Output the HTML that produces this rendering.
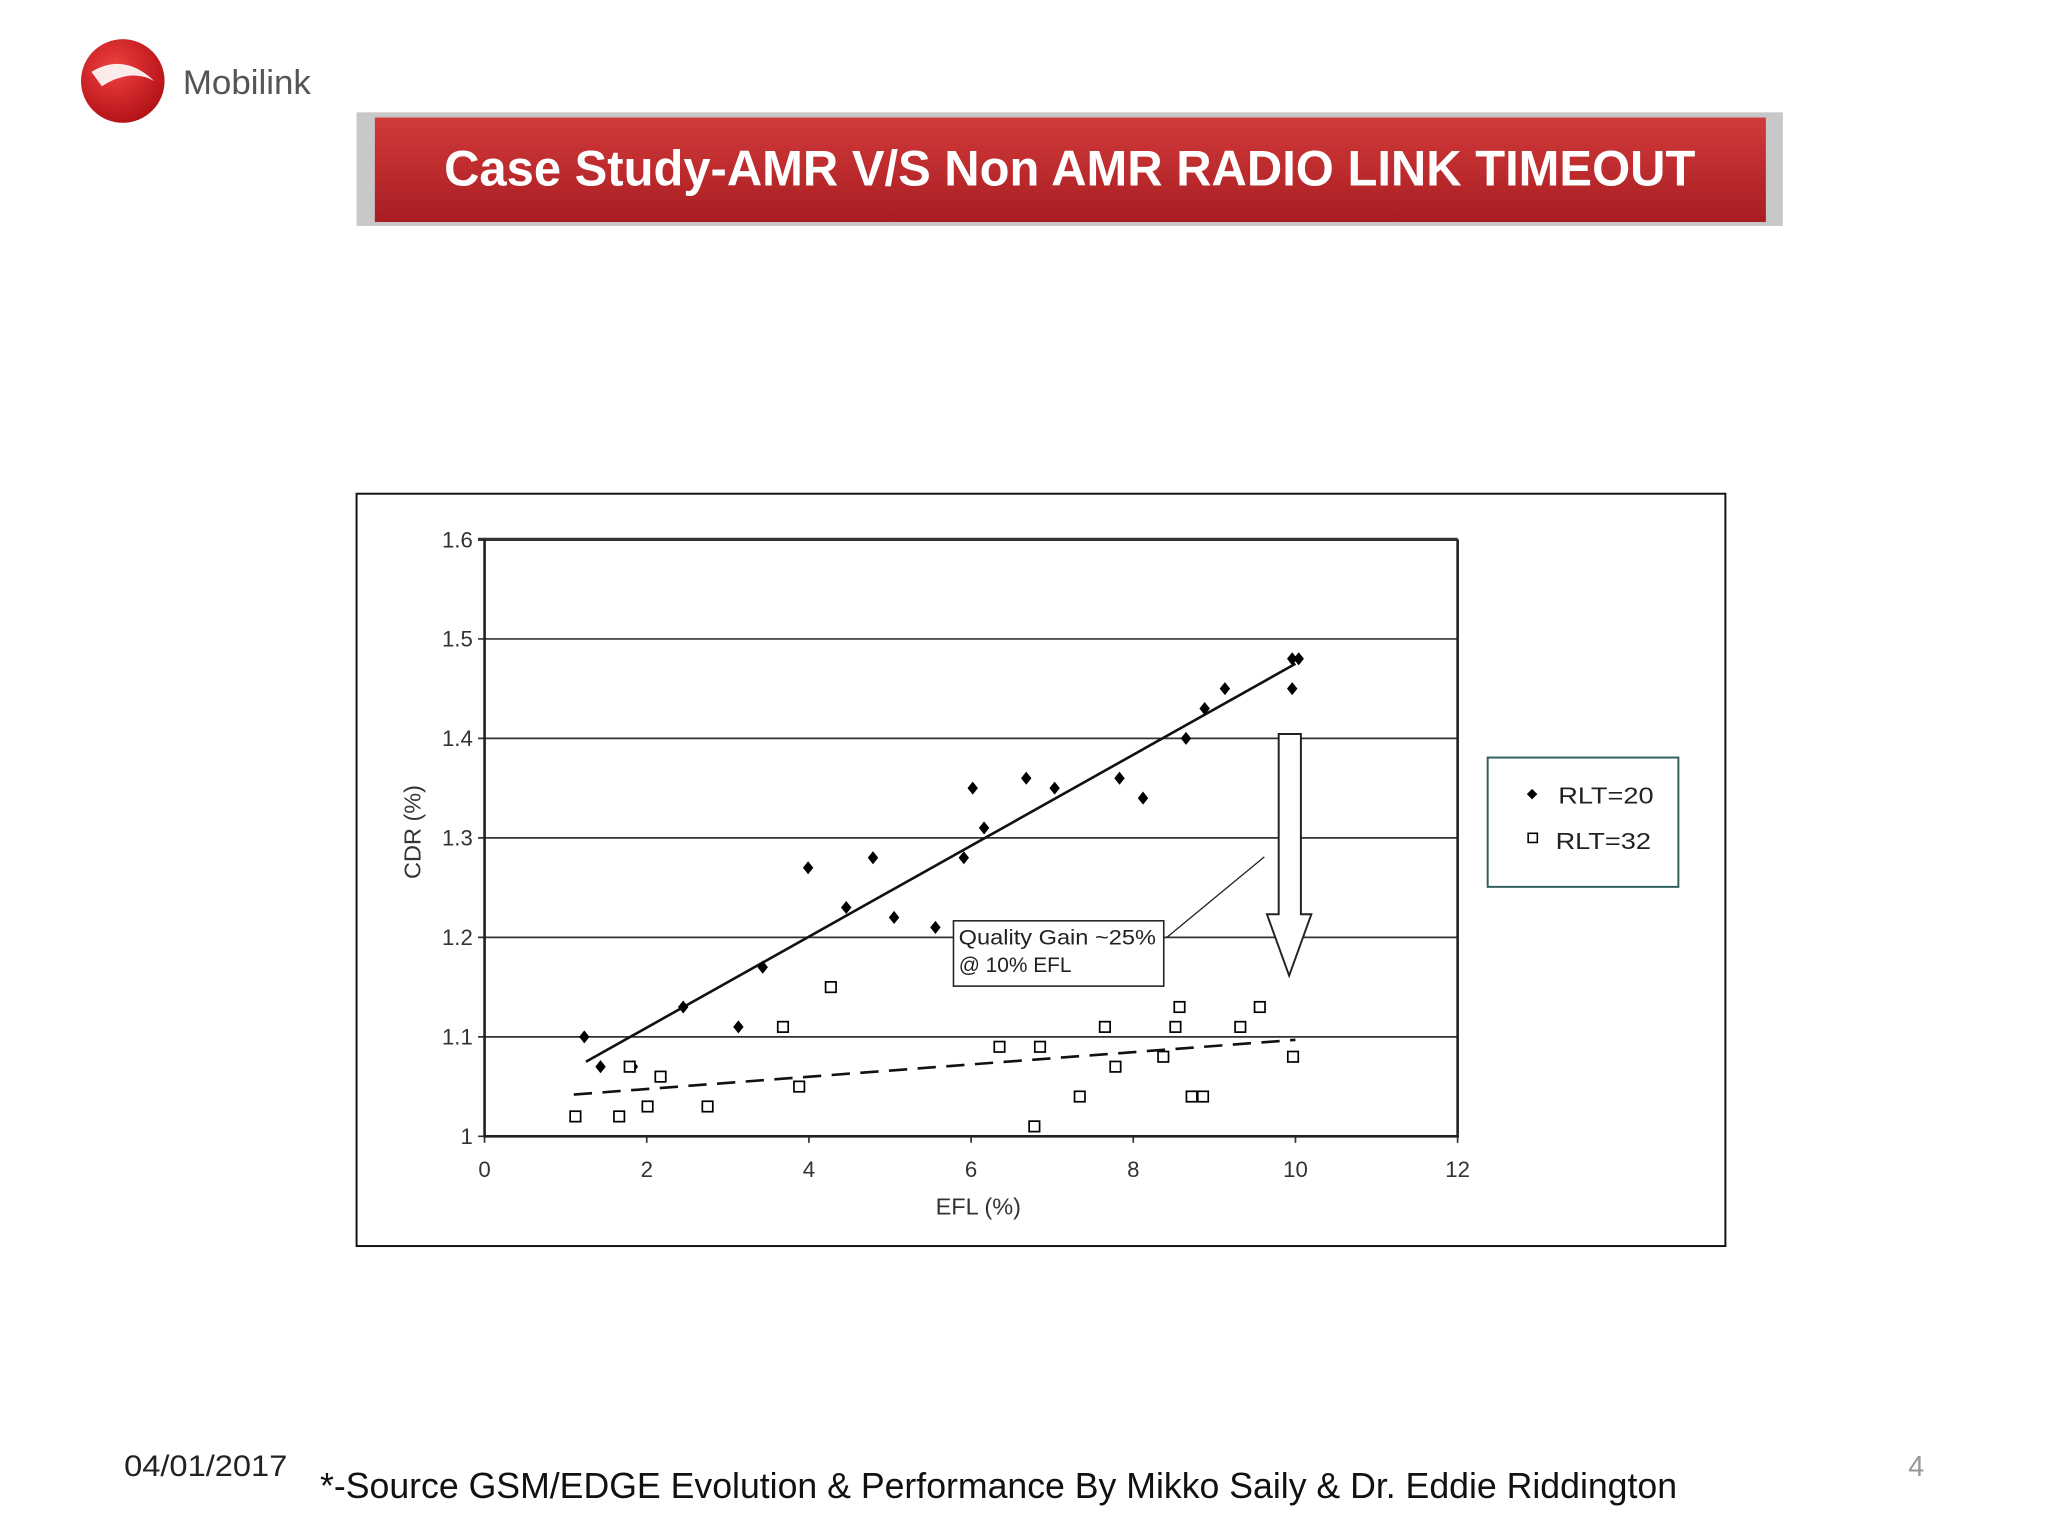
<!DOCTYPE html>
<html><head><meta charset="utf-8"><style>
html,body{margin:0;padding:0;background:#fff;width:2048px;height:1536px;overflow:hidden}
svg{display:block}
text{font-family:"Liberation Sans",sans-serif}
</style></head><body>
<svg id="s" width="2048" height="1536" viewBox="0 0 1568 1176" xmlns="http://www.w3.org/2000/svg">
<defs>
<linearGradient id="rg" x1="0" y1="0" x2="0" y2="1"><stop offset="0" stop-color="#d23a3a"/><stop offset="1" stop-color="#a81d22"/></linearGradient>
<radialGradient id="lg" cx="0.4" cy="0.35" r="0.7"><stop offset="0" stop-color="#f04040"/><stop offset="1" stop-color="#b01015"/></radialGradient>
</defs>
<g>
<circle cx="94" cy="62" r="32" fill="url(#lg)"/>
<path d="M70 55 Q95 40 118 62 Q100 52 78 66 Z" fill="#fff" opacity="0.9"/>
<text x="140" y="72" font-size="26" fill="#555" textLength="98" lengthAdjust="spacingAndGlyphs">Mobilink</text>
</g>
<g>
<rect x="273" y="86" width="1092" height="87" fill="#c8c8c8"/>
<rect x="287" y="90" width="1065" height="80" fill="url(#rg)"/>
<text x="340" y="142" font-size="38" font-weight="bold" fill="#fff" textLength="958" lengthAdjust="spacingAndGlyphs">Case Study-AMR V/S Non AMR RADIO LINK TIMEOUT</text>
</g>
<rect x="273" y="378" width="1048" height="576" fill="#fff" stroke="#111" stroke-width="1.5"/>
<g id="plot"></g>
<g>
<rect x="1139" y="580" width="146" height="99" fill="#fff" stroke="#2f5f5a" stroke-width="1.5"/>
<path d="M1173 604 l4 4 l-4 4 l-4 -4 z" fill="#000"/>
<text x="1193" y="615" font-size="18" fill="#222" textLength="73" lengthAdjust="spacingAndGlyphs">RLT=20</text>
<rect x="1170" y="638" width="7" height="7" fill="#fff" stroke="#000" stroke-width="1.2"/>
<text x="1191" y="650" font-size="18" fill="#222" textLength="73" lengthAdjust="spacingAndGlyphs">RLT=32</text>
</g>
<g>
<line x1="893" y1="718" x2="968" y2="656" stroke="#222" stroke-width="1"/>
<rect x="730" y="705" width="161" height="50" fill="#fff" stroke="#222" stroke-width="1.2"/>
<text x="734" y="723" font-size="16" fill="#222" textLength="151" lengthAdjust="spacingAndGlyphs">Quality Gain ~25%</text>
<text x="734" y="744" font-size="16" fill="#222">@ 10% EFL</text>
<path d="M979 562 H996 V700 H1004 L987 747 L970 700 H979 Z" fill="#fff" stroke="#222" stroke-width="1.5"/>
</g>
<text x="95" y="1130" font-size="23" fill="#222" textLength="125" lengthAdjust="spacingAndGlyphs">04/01/2017</text>
<text x="245" y="1147" font-size="28" fill="#111" textLength="1039" lengthAdjust="spacingAndGlyphs">*-Source GSM/EDGE Evolution &amp; Performance By Mikko Saily &amp; Dr. Eddie Riddington</text>
<text x="1461" y="1130" font-size="22" fill="#999">4</text>
</svg>
<script>
const xTicks=[0,2,4,6,8,10,12];
const yTicks=[1,1.1,1.2,1.3,1.4,1.5,1.6];
const yTickLabels=["1","1.1","1.2","1.3","1.4","1.5","1.6"];
const rlt20X=[1.23,1.43,1.83,2.45,3.13,3.43,3.99,4.46,4.79,5.05,5.56,5.91,6.02,6.16,6.68,7.03,7.83,8.12,8.65,8.88,9.13,9.96,9.96,10.04];
const rlt20Y=[1.10,1.07,1.07,1.13,1.11,1.17,1.27,1.23,1.28,1.22,1.21,1.28,1.35,1.31,1.36,1.35,1.36,1.34,1.40,1.43,1.45,1.45,1.48,1.48];
const rlt32X=[1.12,1.66,1.79,2.01,2.17,2.75,3.68,3.88,4.27,6.35,6.78,6.85,7.34,7.65,7.78,8.37,8.52,8.57,8.72,8.86,9.32,9.56,9.97];
const rlt32Y=[1.02,1.02,1.07,1.03,1.06,1.03,1.11,1.05,1.15,1.09,1.01,1.09,1.04,1.11,1.07,1.08,1.11,1.13,1.04,1.04,1.11,1.13,1.08];
const trend20X=[1.25,10.0], trend20Y=[1.075,1.475];
const trend32X=[1.1,10.0], trend32Y=[1.042,1.097];
const NS="http://www.w3.org/2000/svg";
const X0=371,X1=1116,Y0=870,Y1=413;
function sx(v){return X0+(v-0)/(12-0)*(X1-X0);}
function sy(v){return Y0-(v-1)/(1.6-1)*(Y0-Y1);}
const g=document.getElementById('plot');
function mk(t,a){const e=document.createElementNS(NS,t);for(const k in a)e.setAttribute(k,a[k]);g.appendChild(e);return e;}
yTicks.forEach((v,i)=>{
 const l=mk('line',{x1:X0-5,x2:X1,y1:sy(v),y2:sy(v),stroke:'#333','stroke-width':i==6?2.5:1.3});
 
 
 const t=mk('text',{x:X0-9,y:sy(v)+6,'font-size':17,'text-anchor':'end',fill:'#333'});
 t.textContent=yTickLabels[i];
 
 
});
xTicks.forEach(v=>{
 const l=mk('line',{x1:sx(v),x2:sx(v),y1:Y0,y2:Y0+5,stroke:'#333','stroke-width':1.3});
 
 
 const t=mk('text',{x:sx(v),y:Y0+31,'font-size':17,'text-anchor':'middle',fill:'#333'});
 t.textContent=String(v);
 
 
});
let ax=mk('path',{d:`M${X0} ${Y1} V${Y0} H${X1} V${Y1}`,fill:'none',stroke:'#222','stroke-width':2});


let xt=mk('text',{x:749,y:930,'font-size':18,'text-anchor':'middle',fill:'#333'});xt.textContent='EFL (%)';


let yt=mk('text',{x:0,y:0,'font-size':18,'text-anchor':'middle',fill:'#333',transform:'translate(322,637) rotate(-90)'});yt.textContent='CDR (%)';


let t1=mk('line',{x1:sx(trend20X[0]),y1:sy(trend20Y[0]),x2:sx(trend20X[1]),y2:sy(trend20Y[1]),stroke:'#111','stroke-width':2});


let t2=mk('line',{x1:sx(trend32X[0]),y1:sy(trend32Y[0]),x2:sx(trend32X[1]),y2:sy(trend32Y[1]),stroke:'#111','stroke-width':2,'stroke-dasharray':'14 8'});


rlt20X.forEach((x,i)=>{
 const cx=sx(x),cy=sy(rlt20Y[i]);
 const p=mk('path',{d:`M${cx} ${cy-5} l4 5 l-4 5 l-4 -5 z`,fill:'#000'});
 
 
});
rlt32X.forEach((x,i)=>{
 const cx=sx(x),cy=sy(rlt32Y[i]);
 const r=mk('rect',{x:cx-4,y:cy-4,width:8,height:8,fill:'#fff',stroke:'#000','stroke-width':1.3});
 
 
});
</script>
</body></html>
